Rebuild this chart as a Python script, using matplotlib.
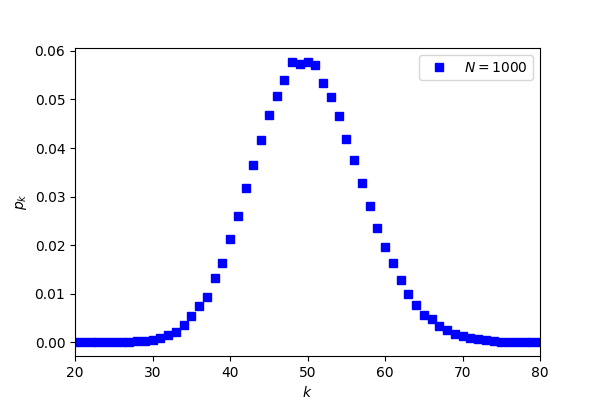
import numpy as np
import matplotlib.pyplot as plt

k = np.arange(20, 81)
pk = [0.0001, 0.0001, 0.0001, 0.0001, 0.0001, 0.0001, 0.0001, 0.0002, 0.0003, 0.0003,
      0.0005, 0.0010, 0.0015, 0.0022, 0.0035, 0.0055, 0.0075, 0.0093, 0.0133, 0.0163,
      0.0213, 0.0261, 0.0317, 0.0366, 0.0417, 0.0468, 0.0508, 0.0539, 0.0577, 0.0573,
      0.0577, 0.0570, 0.0533, 0.0506, 0.0465, 0.0419, 0.0375, 0.0329, 0.0280, 0.0235,
      0.0196, 0.0164, 0.0129, 0.0099, 0.0078, 0.0056, 0.0048, 0.0034, 0.0025, 0.0017,
      0.0013, 0.0010, 0.0008, 0.0005, 0.0003, 0.0002, 0.0001, 0.0001, 0.0001, 0.0001,
      0.0001]

fig, ax = plt.subplots(figsize=(6, 4), dpi=100)
ax.plot(k, pk, 's', color='blue', markersize=6, label=r'$N = 1000$')
ax.set_xlim(20, 80)
ax.set_xlabel(r'$k$')
ax.set_ylabel(r'$p_k$')
ax.legend(loc='upper right')
fig.savefig('out.png')
